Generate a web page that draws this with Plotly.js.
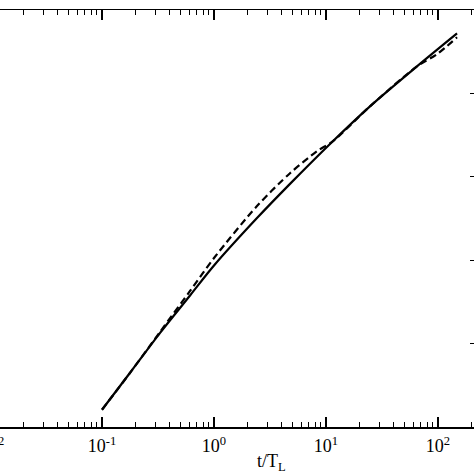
<!DOCTYPE html>
<html>
<head>
<meta charset="utf-8">
<script src="https://cdn.plot.ly/plotly-3.0.1.min.js"></script>
<style>
html,body{margin:0;padding:0;overflow:hidden;width:474px;height:474px;background:#fff;}
#chart{position:absolute;left:-80px;top:0;width:562px;height:474px;}
</style>
</head>
<body>
<div id="chart"></div>
<script>
// Data
var tSolid = [0.1, 0.178, 0.33, 0.611, 1.0, 2.42, 4.77, 10.86, 24.7, 64.9, 147.9];
var ySolid = [0.207, 0.650, 1.129, 1.577, 1.936, 2.505, 2.915, 3.394, 3.845, 4.324, 4.719];
var tDashed = [0.1, 0.178, 0.33, 0.611, 1.0, 2.42, 4.77, 8.32, 11.55, 24.7, 64.9, 97.9, 147.9];
var yDashed = [0.207, 0.650, 1.141, 1.631, 2.026, 2.649, 3.043, 3.307, 3.427, 3.845, 4.324, 4.469, 4.673];

var xTickVals = [0.01, 0.1, 1, 10, 100];
var xTickText = ['10<sup>-2</sup>', '10<sup>-1</sup>', '10<sup>0</sup>', '10<sup>1</sup>', '10<sup>2</sup>'];
var yTickVals = [0, 1, 2, 3, 4, 5];
var yTickText = ['0', '1', '2', '3', '4', '5'];

var minorVals = [];
xTickVals.forEach(function(d){ for (var k = 2; k <= 9; k++) minorVals.push(d * k); });

var traces = [
  {x: tSolid, y: ySolid, mode: 'lines', line: {color: '#000', width: 2.2, shape: 'spline', smoothing: 0.8}, hoverinfo: 'none'},
  {x: tDashed, y: yDashed, mode: 'lines', line: {color: '#000', width: 2.2, dash: '7px,4px', shape: 'spline', smoothing: 0.8}, hoverinfo: 'none'}
];

var font = {family: 'Liberation Serif, Times New Roman, serif', color: '#000', size: 18};

var layout = {
  width: 562, height: 474,
  margin: {l: 70, r: 2, t: 10, b: 47},
  paper_bgcolor: '#fff', plot_bgcolor: '#fff',
  showlegend: false,
  font: font,
  xaxis: {
    type: 'log', range: [-2, 2.375],
    tickmode: 'array', tickvals: xTickVals, ticktext: xTickText,
    ticks: 'inside', ticklen: 10, tickwidth: 1.3, tickcolor: '#000',
    minor: {tickmode: 'array', tickvals: minorVals, ticks: 'inside', ticklen: 5, tickwidth: 1.2, tickcolor: '#000', showgrid: false},
    showline: true, linecolor: '#000', linewidth: 1.5, mirror: 'ticks',
    showgrid: false, zeroline: false,
    ticklabelstandoff: 2,
    tickfont: font
  },
  yaxis: {
    range: [0, 5],
    tickmode: 'array', tickvals: yTickVals, ticktext: yTickText,
    ticks: 'inside', ticklen: 10, tickwidth: 1.3, tickcolor: '#000',
    showline: true, linecolor: '#000', linewidth: 1.5, mirror: 'ticks',
    showgrid: false, zeroline: false,
    tickfont: font
  },
  annotations: [{
    xref: 'paper', yref: 'paper', x: 0.5755, y: -0.085,
    text: 't/T<sub>L</sub>', showarrow: false, font: {family: font.family, size: 18, color: '#000'},
    xanchor: 'center', yanchor: 'middle'
  }]
};

Plotly.newPlot('chart', traces, layout, {staticPlot: true, displayModeBar: false});
</script>
</body>
</html>
